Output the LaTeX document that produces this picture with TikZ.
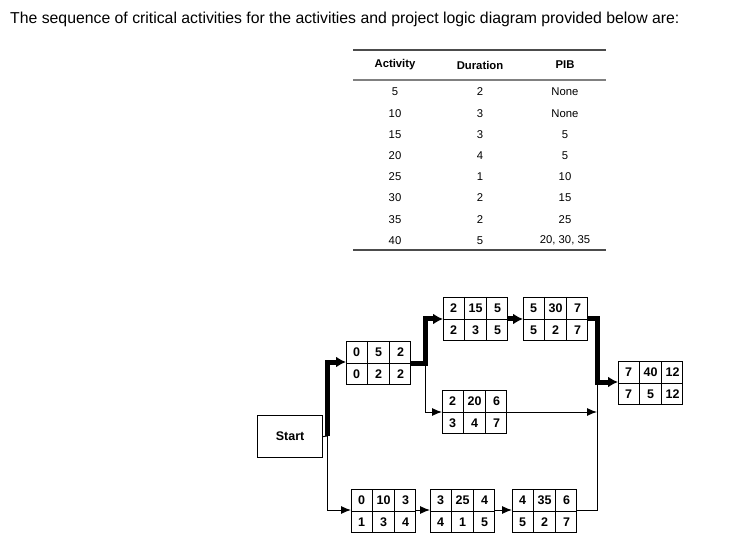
\documentclass[tikz,border=0pt]{standalone}
\usepackage{fontspec}
\setmainfont{Liberation Sans}
\usetikzlibrary{arrows.meta,calc}
\tikzset{
  abox/.style={draw,line width=1.2pt,minimum width=64pt,minimum height=43pt,inner sep=0pt,anchor=north west},
  thin/.style={line width=1pt,-{Latex[length=10pt,width=8pt]}},
  crit/.style={line width=5pt,-{Latex[length=10pt,width=11pt]}},
  num/.style={font=\bfseries\fontsize{12.5}{14}\selectfont},
  tcell/.style={font=\fontsize{11.3}{13}\selectfont},
  thead/.style={font=\bfseries\fontsize{11.3}{13}\selectfont},
}
\newcommand{\actbox}[9]{%
  \node[abox] (#1) at (#2,#3) {};
  \draw[line width=1pt] (#1.west) -- (#1.east)
    ($(#1.north west)!0.333!(#1.north east)$) -- ($(#1.south west)!0.333!(#1.south east)$)
    ($(#1.north west)!0.667!(#1.north east)$) -- ($(#1.south west)!0.667!(#1.south east)$);
  \node[num] at ($(#1.north west)!0.5!(#1.west)+(10.7pt,0)$) {#4};
  \node[num] at ($(#1.north)!0.5!(#1.center)$) {#5};
  \node[num] at ($(#1.north east)!0.5!(#1.east)+(-10.7pt,0)$) {#6};
  \node[num] at ($(#1.south west)!0.5!(#1.west)+(10.7pt,0)$) {#7};
  \node[num] at ($(#1.south)!0.5!(#1.center)$) {#8};
  \node[num] at ($(#1.south east)!0.5!(#1.east)+(-10.7pt,0)$) {#9};
}
\begin{document}
\begin{tikzpicture}[x=1pt,y=-1pt]
\useasboundingbox (0,0) rectangle (739,545);
\node[anchor=west,inner sep=0pt,font=\fontsize{15.8}{18}\selectfont] (title) at (10,19) {The sequence of critical activities for the activities and project logic diagram provided below are:};
% table
\draw[line width=1.5pt,gray!60!black] (353,50) -- (606,50);
\draw[line width=1.2pt,gray] (353,80) -- (606,80);
\draw[line width=1.5pt,gray!60!black] (353,250) -- (606,250);
\node[thead] (h1) at (395,65) {Activity};
\node[thead] (h2) at (480,65) {Duration};
\node[thead] (h3) at (565,65) {PIB};
\foreach \a/\d/\p [count=\i from 0] in {5/2/None,10/3/None,15/3/5,20/4/5,25/1/10,30/2/15,35/2/25,40/5/{20, 30, 35}}{
  \node[tcell] (ta\i) at (395,92+21.2*\i) {\a};
  \node[tcell] (td\i) at (480,92+21.2*\i) {\d};
  \node[tcell] (tp\i) at (565,92+21.2*\i) {\p};
}
% network
\node[draw,line width=1.2pt,minimum width=65pt,minimum height=42pt,anchor=north west,font=\bfseries\fontsize{12.5}{14}\selectfont] (start) at (257,415) {Start};
\actbox{a5}{346}{341}{0}{5}{2}{0}{2}{2}
\actbox{a15}{443}{297}{2}{15}{5}{2}{3}{5}
\actbox{a30}{523}{297}{5}{30}{7}{5}{2}{7}
\actbox{a40}{618}{361}{7}{40}{12}{7}{5}{12}
\actbox{a20}{442}{390}{2}{20}{6}{3}{4}{7}
\actbox{a10}{351}{489}{0}{10}{3}{1}{3}{4}
\actbox{a25}{430}{489}{3}{25}{4}{4}{1}{5}
\actbox{a35}{512}{489}{4}{35}{6}{5}{2}{7}
\coordinate (s1) at (327,436);
\coordinate (j1) at (425,363);
\coordinate (j2) at (597,412);
\draw[line width=1pt] (start.east) -- (s1);
\draw[crit] (s1) -- (327,362) -- (a5.west|-0,362);
\draw[thin] (s1) -- (327,510) -- (a10.west|-0,510);
\draw[crit] (a5.east|-0,363) -- (j1) -- (425,319) -- (a15.west|-0,319);
\draw[thin] (j1) -- (425,412) -- (a20.west|-0,412);
\draw[crit] (a15.east|-0,319) -- (a30.west|-0,319);
\draw[crit] (a30.east|-0,319) -- (597,319) -- (597,382) -- (a40.west|-0,382);
\draw[thin] (a20.east|-0,412) -- (j2);
\draw[line width=1pt] (a35.east|-0,510) -- (597,510) -- (597,382);
\draw[thin] (a10.east|-0,510) -- (a25.west|-0,510);
\draw[thin] (a25.east|-0,510) -- (a35.west|-0,510);
\end{tikzpicture}
\end{document}
